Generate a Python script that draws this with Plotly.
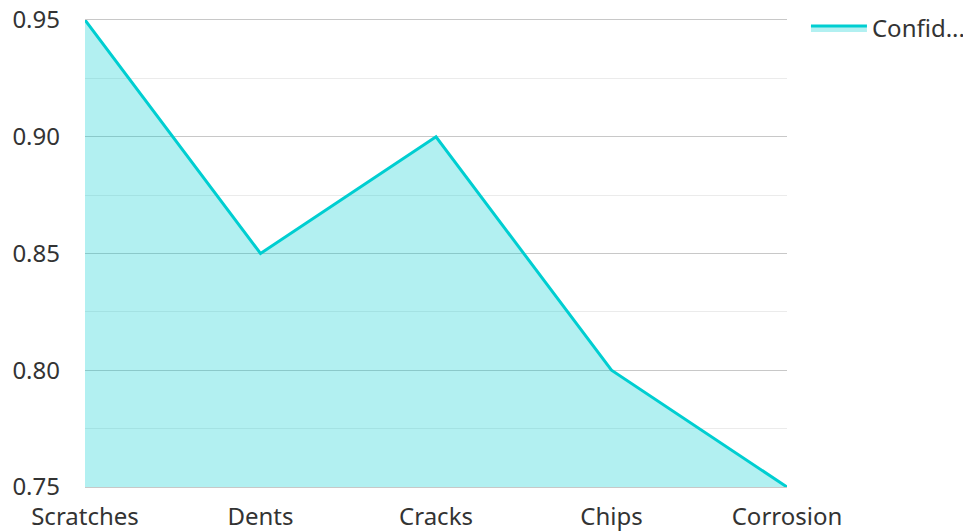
import plotly.graph_objects as go

categories = ["Scratches", "Dents", "Cracks", "Chips", "Corrosion"]
confidence = [0.95, 0.85, 0.90, 0.80, 0.75]
y_ticks = [0.75, 0.80, 0.85, 0.90, 0.95]
y_tick_labels = ["0.75", "0.80", "0.85", "0.90", "0.95"]

fig = go.Figure()
fig.add_trace(go.Scatter(
    x=categories, y=confidence, name="Confid...",
    mode="lines", fill="tozeroy",
    line=dict(color="#00CED1", width=3),
    fillcolor="rgba(0,206,209,0.3)",
))

fig.update_layout(
    width=971, height=531,
    margin=dict(l=77, r=192, t=12, b=52, autoexpand=False),
    paper_bgcolor="white", plot_bgcolor="white",
    font=dict(family="Noto Sans", size=24, color="#333333"),
    showlegend=True,
    legend=dict(x=1.027, y=1.03, xanchor="left", yanchor="top",
                itemwidth=56,
                font=dict(size=24, color="#333333")),
    xaxis=dict(type="category", range=[0, 4], showgrid=False,
               showline=True, mirror=True, linecolor="#c8c8c8", linewidth=1,
               layer="below traces",
               zeroline=False, ticks="", tickfont=dict(size=24),
               automargin=False, ticklabelstandoff=8,
               ticklabeloverflow="allow"),
    yaxis=dict(range=[0.75, 0.95], tickvals=y_ticks, ticktext=y_tick_labels,
               showgrid=True, gridcolor="#c8c8c8", gridwidth=1,
               zeroline=False, showline=False, ticks="",
               tickfont=dict(size=24), automargin=False,
               ticklabelstandoff=24, ticklabeloverflow="allow",
               minor=dict(dtick=0.025, tick0=0.75, showgrid=True,
                          gridcolor="#ebebeb", gridwidth=1)),
)

fig.write_html("out.html")
